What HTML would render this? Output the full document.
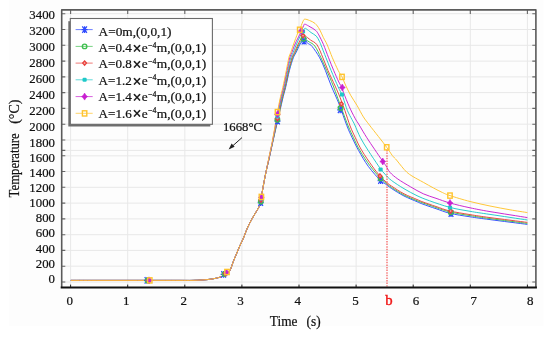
<!DOCTYPE html>
<html><head><meta charset="utf-8"><title>Temperature vs Time</title>
<style>
html,body{margin:0;padding:0;background:#fff;}
body{width:550px;height:337px;overflow:hidden;position:relative;font-family:"Liberation Serif","Noto Serif CJK SC",serif;}
svg{position:absolute;left:0;top:0;display:block}
text{font-family:"Liberation Serif","Noto Serif CJK SC",serif;fill:#111;stroke:#111;stroke-width:0.22}
</style></head><body>
<svg width="550" height="337" viewBox="0 0 550 337">
<rect width="550" height="337" fill="#ffffff"/><rect x="9" y="0" width="534.5" height="326" fill="#fdfdfd"/>
<path d="M70.6 9.9V287.6M127.7 9.9V287.6M184.8 9.9V287.6M241.9 9.9V287.6M299.0 9.9V287.6M356.1 9.9V287.6M413.2 9.9V287.6M470.3 9.9V287.6M527.4 9.9V287.6M61.7 282.0H535.9M61.7 266.2H535.9M61.7 250.4H535.9M61.7 234.7H535.9M61.7 218.9H535.9M61.7 203.1H535.9M61.7 187.3H535.9M61.7 171.5H535.9M61.7 155.8H535.9M61.7 140.0H535.9M61.7 124.2H535.9M61.7 108.4H535.9M61.7 92.6H535.9M61.7 76.9H535.9M61.7 61.1H535.9M61.7 45.3H535.9M61.7 29.5H535.9M61.7 13.7H535.9M61.7 150.4H535.9" stroke="#e8e8e8" stroke-width="1" fill="none"/>
<path d="M70.8 280.4C75.7 280.4 90.1 280.4 100.0 280.4C109.9 280.4 120.0 280.4 130.0 280.4C140.0 280.4 151.7 280.4 160.0 280.4C168.3 280.4 174.7 280.4 180.0 280.4C185.3 280.4 188.3 280.5 192.0 280.4C195.7 280.3 198.7 280.2 202.0 280.0C205.3 279.8 209.0 279.5 212.0 279.0C215.0 278.5 217.8 277.9 220.0 277.2C222.2 276.5 223.7 275.6 225.0 274.8C226.3 274.0 227.1 273.5 228.0 272.6C228.9 271.7 229.6 271.4 230.5 269.4C231.4 267.4 232.6 263.2 233.7 260.5C234.8 257.8 235.8 255.5 236.9 252.9C238.0 250.3 239.0 247.6 240.1 245.2C241.2 242.8 242.2 241.0 243.4 238.2C244.6 235.4 245.9 231.4 247.3 228.2C248.7 225.0 250.3 222.0 251.8 219.2C253.3 216.4 255.1 213.7 256.3 211.6C257.5 209.5 258.5 208.1 259.2 206.6C259.9 205.1 260.2 204.4 260.6 202.4C261.0 200.4 261.2 198.2 261.8 194.5C262.4 190.8 263.5 184.9 264.3 180.5C265.1 176.1 266.2 170.9 266.9 167.8C267.6 164.7 267.4 166.5 268.4 162.0C269.4 157.5 271.5 147.8 273.0 141.0C274.5 134.2 276.0 127.8 277.6 121.0C279.2 114.2 281.1 105.6 282.4 100.0C283.7 94.4 284.4 92.4 285.6 87.5C286.8 82.6 288.1 75.5 289.4 70.5C290.7 65.5 292.2 60.8 293.3 57.8C294.4 54.8 294.9 54.8 296.0 52.7C297.1 50.6 298.6 46.8 299.6 45.0C300.6 43.2 301.2 42.5 302.0 41.8C302.8 41.1 303.0 40.3 304.1 40.6C305.2 40.9 307.2 42.8 308.6 43.8C310.0 44.8 310.4 44.2 312.2 46.5C314.0 48.8 317.5 53.8 319.7 57.8C321.9 61.8 323.5 65.8 325.4 70.5C327.3 75.2 329.0 80.4 331.3 86.0C333.6 91.6 336.5 97.5 339.1 104.1C341.7 110.7 344.6 119.9 346.8 125.5C349.0 131.1 350.2 133.6 352.2 137.8C354.2 142.0 355.9 145.7 358.6 150.5C361.3 155.3 364.7 161.5 368.4 166.5C372.1 171.5 377.8 177.8 380.6 180.6C383.4 183.4 383.2 182.3 385.0 183.6C386.8 184.9 388.2 186.3 391.4 188.4C394.6 190.5 399.7 193.8 404.0 196.0C408.3 198.2 413.8 200.3 417.0 201.7C420.2 203.1 419.8 203.0 423.0 204.2C426.2 205.4 431.5 207.2 436.0 208.7C440.5 210.2 444.3 212.0 450.0 213.3C455.7 214.7 463.3 215.8 470.0 216.8C476.7 217.9 480.4 218.3 490.0 219.6C499.6 220.9 521.2 223.6 527.4 224.4" fill="none" stroke="#2f4bff" stroke-width="0.95" stroke-linejoin="round"/>
<path d="M70.8 280.4C75.7 280.4 90.1 280.4 100.0 280.4C109.9 280.4 120.0 280.4 130.0 280.4C140.0 280.4 151.7 280.4 160.0 280.4C168.3 280.4 174.7 280.4 180.0 280.4C185.3 280.4 188.3 280.5 192.0 280.4C195.7 280.3 198.7 280.2 202.0 280.0C205.3 279.8 209.0 279.5 212.0 279.0C215.0 278.5 217.8 277.9 220.0 277.2C222.2 276.5 223.7 275.6 225.0 274.8C226.3 274.0 227.1 273.5 228.0 272.6C228.9 271.7 229.6 271.4 230.5 269.4C231.4 267.4 232.6 263.2 233.7 260.5C234.8 257.8 235.8 255.5 236.9 252.9C238.0 250.3 239.0 247.6 240.1 245.2C241.2 242.8 242.2 241.0 243.4 238.2C244.6 235.4 245.9 231.4 247.3 228.2C248.7 225.0 250.3 222.0 251.8 219.2C253.3 216.4 255.1 213.7 256.3 211.6C257.5 209.5 258.5 208.1 259.2 206.6C259.9 205.1 260.2 204.4 260.6 202.4C261.0 200.4 261.2 198.2 261.8 194.5C262.4 190.8 263.5 184.9 264.3 180.5C265.1 176.1 266.2 170.9 266.9 167.8C267.6 164.7 267.3 166.5 268.3 162.0C269.3 157.5 271.4 147.8 272.9 141.0C274.4 134.2 275.8 127.8 277.3 121.0C278.9 114.2 280.7 105.6 282.0 100.0C283.3 94.4 284.0 92.4 285.2 87.5C286.3 82.6 287.7 75.5 288.9 70.5C290.2 65.5 291.6 60.8 292.6 57.8C293.7 54.8 294.2 54.8 295.2 52.7C296.2 50.6 297.6 47.0 298.7 45.0C299.7 43.0 300.7 41.5 301.5 40.5C302.3 39.5 302.2 38.5 303.5 38.7C304.8 38.9 307.3 40.7 309.2 41.9C311.1 43.1 312.8 43.4 314.8 46.0C316.8 48.6 319.0 53.7 321.0 57.8C323.0 61.9 324.6 65.8 326.7 70.5C328.8 75.2 330.7 79.3 333.3 86.0C335.9 92.7 339.8 103.8 342.3 110.5C344.8 117.2 346.3 121.5 348.2 126.0C350.1 130.6 351.6 133.7 353.5 137.8C355.4 141.9 357.1 145.8 359.9 150.5C362.6 155.2 366.6 161.2 370.0 165.8C373.4 170.5 378.1 175.7 380.6 178.4C383.1 181.2 383.2 180.8 385.0 182.3C386.8 183.8 388.2 185.2 391.4 187.3C394.6 189.4 399.7 192.8 404.0 195.0C408.3 197.2 412.7 199.0 417.0 200.7C421.3 202.4 424.5 203.5 430.0 205.4C435.5 207.3 443.3 210.3 450.0 212.0C456.7 213.7 463.3 214.5 470.0 215.6C476.7 216.7 480.4 217.3 490.0 218.6C499.6 219.9 521.2 222.6 527.4 223.4" fill="none" stroke="#3fbf4f" stroke-width="0.95" stroke-linejoin="round"/>
<path d="M70.8 280.4C75.7 280.4 90.1 280.4 100.0 280.4C109.9 280.4 120.0 280.4 130.0 280.4C140.0 280.4 151.7 280.4 160.0 280.4C168.3 280.4 174.7 280.4 180.0 280.4C185.3 280.4 188.3 280.5 192.0 280.4C195.7 280.3 198.7 280.2 202.0 280.0C205.3 279.8 209.0 279.5 212.0 279.0C215.0 278.5 217.8 277.9 220.0 277.2C222.2 276.5 223.7 275.6 225.0 274.8C226.3 274.0 227.1 273.5 228.0 272.6C228.9 271.7 229.6 271.4 230.5 269.4C231.4 267.4 232.6 263.2 233.7 260.5C234.8 257.8 235.8 255.5 236.9 252.9C238.0 250.3 239.0 247.6 240.1 245.2C241.2 242.8 242.2 241.0 243.4 238.2C244.6 235.4 245.9 231.4 247.3 228.2C248.7 225.0 250.3 222.0 251.8 219.2C253.3 216.4 255.1 213.7 256.3 211.6C257.5 209.5 258.5 208.1 259.2 206.6C259.9 205.1 260.2 204.4 260.6 202.4C261.0 200.4 261.2 198.2 261.8 194.5C262.4 190.8 263.5 184.9 264.3 180.5C265.1 176.1 266.2 170.9 266.9 167.8C267.6 164.7 267.3 166.5 268.3 162.0C269.3 157.5 271.4 147.8 272.8 141.0C274.3 134.2 275.6 127.8 277.1 121.0C278.6 114.2 280.3 105.6 281.6 100.0C282.9 94.4 283.6 92.4 284.8 87.5C285.9 82.6 287.3 75.5 288.5 70.5C289.7 65.5 291.0 60.8 291.9 57.8C292.9 54.8 293.4 54.8 294.4 52.7C295.4 50.6 296.7 47.1 297.7 45.0C298.7 42.9 299.4 41.6 300.3 40.0C301.2 38.4 302.0 36.1 302.9 35.5C303.8 34.9 304.1 35.4 305.4 36.1C306.7 36.9 308.6 38.5 310.5 40.0C312.4 41.5 314.9 41.8 317.0 44.8C319.1 47.8 321.1 53.5 322.9 57.8C324.7 62.1 326.0 65.8 328.0 70.5C330.0 75.2 333.1 81.5 335.1 86.0C337.1 90.5 338.6 93.7 340.2 97.8C341.8 101.9 343.2 105.8 344.9 110.5C346.5 115.2 348.4 121.5 350.1 126.0C351.9 130.6 353.4 133.7 355.4 137.8C357.3 141.9 359.0 145.8 361.8 150.5C364.6 155.2 369.0 161.6 372.0 165.8C375.0 170.1 377.8 173.5 380.0 176.0C382.2 178.5 383.1 179.3 385.0 181.0C386.9 182.7 388.2 183.9 391.4 186.0C394.6 188.1 399.7 191.6 404.0 193.8C408.3 196.1 413.8 198.1 417.0 199.5C420.2 200.9 419.8 200.8 423.0 202.0C426.2 203.2 431.5 205.0 436.0 206.5C440.5 208.0 444.3 209.7 450.0 211.0C455.7 212.3 463.3 213.5 470.0 214.6C476.7 215.7 480.4 216.3 490.0 217.6C499.6 218.9 521.2 221.6 527.4 222.4" fill="none" stroke="#e8413c" stroke-width="0.95" stroke-linejoin="round"/>
<path d="M70.8 280.4C75.7 280.4 90.1 280.4 100.0 280.4C109.9 280.4 120.0 280.4 130.0 280.4C140.0 280.4 151.7 280.4 160.0 280.4C168.3 280.4 174.7 280.4 180.0 280.4C185.3 280.4 188.3 280.5 192.0 280.4C195.7 280.3 198.7 280.2 202.0 280.0C205.3 279.8 209.0 279.5 212.0 279.0C215.0 278.5 217.8 277.9 220.0 277.2C222.2 276.5 223.7 275.6 225.0 274.8C226.3 274.0 227.1 273.5 228.0 272.6C228.9 271.7 229.6 271.4 230.5 269.4C231.4 267.4 232.6 263.2 233.7 260.5C234.8 257.8 235.8 255.5 236.9 252.9C238.0 250.3 239.0 247.6 240.1 245.2C241.2 242.8 242.2 241.0 243.4 238.2C244.6 235.4 245.9 231.4 247.3 228.2C248.7 225.0 250.3 222.0 251.8 219.2C253.3 216.4 255.1 213.7 256.3 211.6C257.5 209.5 258.5 208.1 259.2 206.6C259.9 205.1 260.2 204.4 260.6 202.4C261.0 200.4 261.2 198.2 261.8 194.5C262.4 190.8 263.5 184.9 264.3 180.5C265.1 176.1 266.3 170.9 266.9 167.8C267.5 164.7 267.2 166.5 268.2 162.0C269.1 157.5 271.3 147.8 272.7 141.0C274.1 134.2 275.3 127.8 276.7 121.0C278.0 114.2 279.7 105.6 281.0 100.0C282.2 94.4 282.9 92.4 284.1 87.5C285.2 82.6 286.6 75.5 287.7 70.5C288.8 65.5 289.9 60.8 290.8 57.8C291.7 54.8 292.2 54.8 293.1 52.7C294.0 50.6 295.0 47.7 296.1 45.0C297.3 42.3 298.9 38.9 300.0 36.5C301.1 34.1 302.2 31.8 303.0 30.5C303.8 29.2 304.2 28.8 304.8 28.5C305.4 28.2 305.5 28.3 306.5 29.0C307.5 29.7 309.4 31.3 311.0 32.5C312.6 33.7 314.9 34.6 316.3 36.1C317.7 37.6 318.6 39.8 319.4 41.3C320.2 42.8 319.9 42.2 321.0 45.0C322.1 47.8 324.3 53.5 326.0 57.8C327.7 62.0 329.1 65.6 331.1 70.5C333.1 75.4 336.4 83.0 338.2 87.0C340.0 91.0 341.2 92.8 342.0 94.6C342.8 96.4 342.3 95.1 343.2 97.8C344.1 100.5 345.9 106.9 347.4 110.5C348.8 114.1 350.7 117.0 351.9 119.4C353.1 121.8 353.4 121.9 354.8 125.0C356.2 128.1 358.3 133.6 360.5 137.8C362.7 142.1 365.2 145.8 368.2 150.5C371.2 155.2 376.3 162.7 378.4 165.8C380.5 168.9 379.5 167.8 380.6 169.2C381.7 170.6 383.2 172.3 385.0 174.2C386.8 176.1 388.2 178.0 391.4 180.4C394.6 182.8 399.7 186.1 404.0 188.7C408.3 191.2 412.7 193.7 417.0 195.7C421.3 197.7 424.1 198.9 429.6 200.8C435.1 202.8 443.3 205.7 450.0 207.4C456.7 209.2 463.3 210.1 470.0 211.3C476.7 212.5 480.4 213.0 490.0 214.4C499.6 215.8 521.2 219.1 527.4 220.0" fill="none" stroke="#1fc9c9" stroke-width="0.95" stroke-linejoin="round"/>
<path d="M70.8 280.4C75.7 280.4 90.1 280.4 100.0 280.4C109.9 280.4 120.0 280.4 130.0 280.4C140.0 280.4 151.7 280.4 160.0 280.4C168.3 280.4 174.7 280.4 180.0 280.4C185.3 280.4 188.3 280.5 192.0 280.4C195.7 280.3 198.7 280.2 202.0 280.0C205.3 279.8 209.0 279.5 212.0 279.0C215.0 278.5 217.8 277.9 220.0 277.2C222.2 276.5 223.7 275.6 225.0 274.8C226.3 274.0 227.1 273.5 228.0 272.6C228.9 271.7 229.6 271.4 230.5 269.4C231.4 267.4 232.6 263.2 233.7 260.5C234.8 257.8 235.8 255.5 236.9 252.9C238.0 250.3 239.0 247.6 240.1 245.2C241.2 242.8 242.2 241.0 243.4 238.2C244.6 235.4 245.9 231.4 247.3 228.2C248.7 225.0 250.3 222.0 251.8 219.2C253.3 216.4 255.1 213.7 256.3 211.6C257.5 209.5 258.5 208.1 259.2 206.6C259.9 205.1 260.2 204.4 260.6 202.4C261.0 200.4 261.2 198.2 261.8 194.5C262.4 190.8 263.5 184.9 264.3 180.5C265.1 176.1 266.3 170.9 266.9 167.8C267.5 164.7 267.1 166.5 268.1 162.0C269.0 157.5 271.2 147.8 272.5 141.0C273.9 134.2 274.9 127.8 276.2 121.0C277.5 114.2 279.1 105.6 280.3 100.0C281.5 94.4 282.3 92.4 283.4 87.5C284.5 82.6 285.9 75.5 286.9 70.5C288.0 65.5 288.9 60.8 289.7 57.8C290.5 54.8 290.9 54.8 291.8 52.7C292.6 50.6 293.5 47.5 294.6 45.0C295.6 42.5 296.8 40.4 298.0 38.0C299.2 35.6 300.6 32.6 301.6 30.4C302.6 28.2 303.5 25.7 304.1 24.7C304.7 23.7 304.4 23.9 305.4 24.3C306.4 24.7 308.3 25.8 310.0 26.8C311.7 27.8 314.1 29.0 315.6 30.4C317.1 31.8 317.5 32.5 318.8 34.9C320.1 37.3 321.9 40.8 323.5 44.6C325.1 48.4 326.9 53.5 328.6 57.8C330.3 62.1 332.0 66.5 333.7 70.5C335.4 74.5 337.4 79.1 338.8 82.0C340.2 84.9 341.2 86.0 342.0 87.8C342.8 89.6 342.4 89.5 343.6 92.7C344.8 95.9 347.4 102.5 349.3 106.7C351.2 111.0 353.4 115.2 355.0 118.2C356.6 121.2 357.2 121.7 359.2 125.0C361.2 128.3 364.3 133.8 366.9 137.8C369.4 141.8 371.9 145.3 374.5 149.2C377.1 153.1 380.9 158.6 382.8 161.4C384.7 164.2 384.8 164.0 386.0 165.8C387.2 167.6 388.0 170.2 390.0 172.4C392.0 174.6 394.4 176.6 397.8 179.0C401.2 181.4 406.2 184.3 410.5 186.8C414.8 189.3 419.1 191.9 423.3 193.8C427.6 195.7 431.6 196.8 436.0 198.3C440.4 199.8 444.3 201.4 450.0 203.0C455.7 204.6 463.3 206.4 470.0 207.8C476.7 209.2 480.4 210.0 490.0 211.6C499.6 213.2 521.2 216.6 527.4 217.6" fill="none" stroke="#c81fd0" stroke-width="0.95" stroke-linejoin="round"/>
<path d="M70.8 280.4C75.7 280.4 90.1 280.4 100.0 280.4C109.9 280.4 120.0 280.4 130.0 280.4C140.0 280.4 151.7 280.4 160.0 280.4C168.3 280.4 174.7 280.4 180.0 280.4C185.3 280.4 188.3 280.5 192.0 280.4C195.7 280.3 198.7 280.2 202.0 280.0C205.3 279.8 209.0 279.5 212.0 279.0C215.0 278.5 217.8 277.9 220.0 277.2C222.2 276.5 223.7 275.6 225.0 274.8C226.3 274.0 227.1 273.5 228.0 272.6C228.9 271.7 229.6 271.4 230.5 269.4C231.4 267.4 232.6 263.2 233.7 260.5C234.8 257.8 235.8 255.5 236.9 252.9C238.0 250.3 239.0 247.6 240.1 245.2C241.2 242.8 242.2 241.0 243.4 238.2C244.6 235.4 245.9 231.4 247.3 228.2C248.7 225.0 250.3 222.0 251.8 219.2C253.3 216.4 255.1 213.7 256.3 211.6C257.5 209.5 258.5 208.1 259.2 206.6C259.9 205.1 260.2 204.4 260.6 202.4C261.0 200.4 261.2 198.2 261.8 194.5C262.4 190.8 263.5 184.9 264.3 180.5C265.1 176.1 266.3 170.9 266.9 167.8C267.5 164.7 267.1 166.5 268.0 162.0C268.9 157.5 271.1 147.8 272.4 141.0C273.7 134.2 274.7 127.8 275.9 121.0C277.1 114.2 278.6 105.6 279.8 100.0C281.0 94.4 281.7 92.4 282.8 87.5C283.9 82.6 285.3 75.5 286.3 70.5C287.3 65.5 288.1 60.8 288.8 57.8C289.5 54.8 289.9 54.8 290.7 52.7C291.4 50.6 292.1 48.3 293.3 45.0C294.5 41.7 296.7 35.5 297.8 33.0C298.9 30.5 298.9 31.7 299.7 29.8C300.5 27.9 302.0 23.3 302.9 21.5C303.8 19.7 303.7 19.4 304.8 19.2C305.9 19.0 307.8 19.8 309.5 20.5C311.2 21.2 313.4 22.0 315.0 23.4C316.6 24.8 318.0 26.8 319.4 29.1C320.8 31.4 322.0 34.8 323.3 37.4C324.6 40.0 325.8 41.6 327.3 45.0C328.8 48.4 330.6 53.5 332.4 57.8C334.2 62.0 336.6 67.3 338.2 70.5C339.8 73.7 340.8 74.5 342.0 76.9C343.2 79.3 344.1 82.0 345.5 85.0C346.9 88.0 348.7 91.8 350.6 95.2C352.5 98.6 354.9 101.8 357.0 105.4C359.1 109.0 361.3 113.6 363.4 116.9C365.5 120.2 366.9 121.7 369.4 125.0C371.9 128.3 375.5 132.8 378.4 136.5C381.3 140.2 384.4 144.1 386.7 147.3C389.0 150.5 390.8 153.5 392.4 155.6C394.0 157.7 395.0 158.2 396.5 160.0C398.0 161.8 399.9 164.4 401.6 166.4C403.3 168.4 404.8 170.4 406.7 172.1C408.6 173.8 410.2 174.9 413.0 176.6C415.8 178.3 419.9 180.4 423.3 182.3C426.7 184.2 430.3 186.3 433.5 188.0C436.7 189.7 439.6 191.2 442.4 192.5C445.1 193.8 445.4 194.1 450.0 195.6C454.6 197.1 463.3 199.8 470.0 201.5C476.7 203.2 483.3 204.6 490.0 206.0C496.7 207.4 503.8 208.7 510.0 209.8C516.2 210.9 524.5 212.1 527.4 212.6" fill="none" stroke="#ffc42e" stroke-width="0.95" stroke-linejoin="round"/>
<path d="M387 150V286.6" stroke="#f24040" stroke-width="1.05" stroke-dasharray="1.5 1.1" fill="none"/>
<path d="M144.0 280.4H150.0M147.0 277.1V283.7M144.7 277.1L149.3 283.7M144.7 283.7L149.3 277.1" stroke="#2f4bff" stroke-width="1.25" fill="none"/>
<path d="M220.6 274.4H226.6M223.6 271.1V277.7M221.3 271.1L225.9 277.7M221.3 277.7L225.9 271.1" stroke="#2f4bff" stroke-width="1.25" fill="none"/>
<path d="M257.7 202.6H263.7M260.7 199.3V205.9M258.4 199.3L263.0 205.9M258.4 205.9L263.0 199.3" stroke="#2f4bff" stroke-width="1.25" fill="none"/>
<path d="M274.5 121.0H280.5M277.5 117.7V124.3M275.2 117.7L279.8 124.3M275.2 124.3L279.8 117.7" stroke="#2f4bff" stroke-width="1.25" fill="none"/>
<path d="M301.1 41.2H307.1M304.1 37.9V44.5M301.8 37.9L306.4 44.5M301.8 44.5L306.4 37.9" stroke="#2f4bff" stroke-width="1.25" fill="none"/>
<path d="M337.2 109.9H343.2M340.2 106.6V113.2M337.9 106.6L342.5 113.2M337.9 113.2L342.5 106.6" stroke="#2f4bff" stroke-width="1.25" fill="none"/>
<path d="M377.6 180.6H383.6M380.6 177.3V183.9M378.3 177.3L382.9 183.9M378.3 183.9L382.9 177.3" stroke="#2f4bff" stroke-width="1.25" fill="none"/>
<path d="M448.0 213.6H454.0M451.0 210.3V216.9M448.7 210.3L453.3 216.9M448.7 216.9L453.3 210.3" stroke="#2f4bff" stroke-width="1.25" fill="none"/>
<circle cx="147.6" cy="280.4" r="2.25" fill="none" stroke="#3fbf4f" stroke-width="1.4"/>
<circle cx="224.5" cy="274.0" r="2.25" fill="none" stroke="#3fbf4f" stroke-width="1.4"/>
<circle cx="260.8" cy="201.5" r="2.25" fill="none" stroke="#3fbf4f" stroke-width="1.4"/>
<circle cx="277.4" cy="119.8" r="2.25" fill="none" stroke="#3fbf4f" stroke-width="1.4"/>
<circle cx="303.5" cy="38.8" r="2.25" fill="none" stroke="#3fbf4f" stroke-width="1.4"/>
<circle cx="340.6" cy="108.0" r="2.25" fill="none" stroke="#3fbf4f" stroke-width="1.4"/>
<circle cx="380.6" cy="178.4" r="2.25" fill="none" stroke="#3fbf4f" stroke-width="1.4"/>
<circle cx="450.8" cy="212.3" r="2.25" fill="none" stroke="#3fbf4f" stroke-width="1.4"/>
<path d="M148.2 278.2L150.1 280.4L148.2 282.6L146.3 280.4Z" fill="#f4a0a0" stroke="#e8413c" stroke-width="1.3" stroke-linejoin="miter"/>
<path d="M225.3 271.4L227.2 273.6L225.3 275.8L223.4 273.6Z" fill="#f4a0a0" stroke="#e8413c" stroke-width="1.3" stroke-linejoin="miter"/>
<path d="M261.0 197.8L262.9 200.0L261.0 202.2L259.1 200.0Z" fill="#f4a0a0" stroke="#e8413c" stroke-width="1.3" stroke-linejoin="miter"/>
<path d="M277.4 116.3L279.3 118.5L277.4 120.7L275.5 118.5Z" fill="#f4a0a0" stroke="#e8413c" stroke-width="1.3" stroke-linejoin="miter"/>
<path d="M303.0 33.4L304.9 35.6L303.0 37.8L301.1 35.6Z" fill="#f4a0a0" stroke="#e8413c" stroke-width="1.3" stroke-linejoin="miter"/>
<path d="M341.4 101.7L343.3 103.9L341.4 106.1L339.5 103.9Z" fill="#f4a0a0" stroke="#e8413c" stroke-width="1.3" stroke-linejoin="miter"/>
<path d="M380.0 173.8L381.9 176.0L380.0 178.2L378.1 176.0Z" fill="#f4a0a0" stroke="#e8413c" stroke-width="1.3" stroke-linejoin="miter"/>
<path d="M450.6 208.8L452.5 211.0L450.6 213.2L448.7 211.0Z" fill="#f4a0a0" stroke="#e8413c" stroke-width="1.3" stroke-linejoin="miter"/>
<rect x="146.7" y="278.4" width="4.2" height="4.0" rx="1.2" fill="#1fc9c9"/>
<rect x="223.9" y="271.2" width="4.2" height="4.0" rx="1.2" fill="#1fc9c9"/>
<rect x="259.1" y="196.7" width="4.2" height="4.0" rx="1.2" fill="#1fc9c9"/>
<rect x="275.3" y="114.5" width="4.2" height="4.0" rx="1.2" fill="#1fc9c9"/>
<rect x="300.9" y="29.5" width="4.2" height="4.0" rx="1.2" fill="#1fc9c9"/>
<rect x="339.9" y="92.6" width="4.2" height="4.0" rx="1.2" fill="#1fc9c9"/>
<rect x="378.5" y="167.4" width="4.2" height="4.0" rx="1.2" fill="#1fc9c9"/>
<rect x="447.9" y="205.6" width="4.2" height="4.0" rx="1.2" fill="#1fc9c9"/>
<path d="M149.3 276.9L150.6 279.1L152.3 280.4L150.6 281.7L149.3 283.9L148.0 281.7L146.3 280.4L148.0 279.1Z" fill="#c81fd0" stroke="#c81fd0" stroke-width="0.6"/>
<path d="M226.5 269.1L227.8 271.3L229.5 272.6L227.8 273.9L226.5 276.1L225.2 273.9L223.5 272.6L225.2 271.3Z" fill="#c81fd0" stroke="#c81fd0" stroke-width="0.6"/>
<path d="M261.3 194.0L262.6 196.2L264.3 197.5L262.6 198.8L261.3 201.0L260.0 198.8L258.3 197.5L260.0 196.2Z" fill="#c81fd0" stroke="#c81fd0" stroke-width="0.6"/>
<path d="M277.4 110.8L278.7 113.0L280.4 114.3L278.7 115.6L277.4 117.8L276.1 115.6L274.4 114.3L276.1 113.0Z" fill="#c81fd0" stroke="#c81fd0" stroke-width="0.6"/>
<path d="M301.3 27.5L302.6 29.7L304.3 31.0L302.6 32.3L301.3 34.5L300.0 32.3L298.3 31.0L300.0 29.7Z" fill="#c81fd0" stroke="#c81fd0" stroke-width="0.6"/>
<path d="M342.3 84.0L343.6 86.2L345.3 87.5L343.6 88.8L342.3 91.0L341.0 88.8L339.3 87.5L341.0 86.2Z" fill="#c81fd0" stroke="#c81fd0" stroke-width="0.6"/>
<path d="M382.8 158.0L384.1 160.2L385.8 161.5L384.1 162.8L382.8 165.0L381.5 162.8L379.8 161.5L381.5 160.2Z" fill="#c81fd0" stroke="#c81fd0" stroke-width="0.6"/>
<path d="M450.0 199.5L451.3 201.7L453.0 203.0L451.3 204.3L450.0 206.5L448.7 204.3L447.0 203.0L448.7 201.7Z" fill="#c81fd0" stroke="#c81fd0" stroke-width="0.6"/>
<rect x="147.6" y="277.8" width="4.4" height="5.2" fill="none" stroke="#ffc42e" stroke-width="1.4"/>
<rect x="224.8" y="269.4" width="4.4" height="5.2" fill="none" stroke="#ffc42e" stroke-width="1.4"/>
<rect x="259.2" y="194.3" width="4.4" height="5.2" fill="none" stroke="#ffc42e" stroke-width="1.4"/>
<rect x="275.3" y="109.5" width="4.4" height="5.2" fill="none" stroke="#ffc42e" stroke-width="1.4"/>
<rect x="297.5" y="27.2" width="4.4" height="5.2" fill="none" stroke="#ffc42e" stroke-width="1.4"/>
<rect x="339.8" y="74.3" width="4.4" height="5.2" fill="none" stroke="#ffc42e" stroke-width="1.4"/>
<rect x="384.5" y="144.7" width="4.4" height="5.2" fill="none" stroke="#ffc42e" stroke-width="1.4"/>
<rect x="447.8" y="193.0" width="4.4" height="5.2" fill="none" stroke="#ffc42e" stroke-width="1.4"/>
<path d="M70.6 9.9v4M127.7 9.9v4M184.8 9.9v4M241.9 9.9v4M299.0 9.9v4M356.1 9.9v4M413.2 9.9v4M470.3 9.9v4M527.4 9.9v4M61.7 282.0h3.6M535.9 282.0h-3.6M61.7 266.2h3.6M535.9 266.2h-3.6M61.7 250.4h3.6M535.9 250.4h-3.6M61.7 234.7h3.6M535.9 234.7h-3.6M61.7 218.9h3.6M535.9 218.9h-3.6M61.7 203.1h3.6M535.9 203.1h-3.6M61.7 187.3h3.6M535.9 187.3h-3.6M61.7 171.5h3.6M535.9 171.5h-3.6M61.7 155.8h3.6M535.9 155.8h-3.6M61.7 140.0h3.6M535.9 140.0h-3.6M61.7 124.2h3.6M535.9 124.2h-3.6M61.7 108.4h3.6M535.9 108.4h-3.6M61.7 92.6h3.6M535.9 92.6h-3.6M61.7 76.9h3.6M535.9 76.9h-3.6M61.7 61.1h3.6M535.9 61.1h-3.6M61.7 45.3h3.6M535.9 45.3h-3.6M61.7 29.5h3.6M535.9 29.5h-3.6M61.7 13.7h3.6M535.9 13.7h-3.6M61.7 150.4h3.6M535.9 150.4h-3.6" stroke="#666" stroke-width="1.1" fill="none"/>
<path d="M61.7 287.6V9.9H535.9V287.6" stroke="#5a5a5a" stroke-width="1.6" fill="none" stroke-linejoin="round"/>
<path d="M70.6 287.6v-3M127.7 287.6v-3M184.8 287.6v-3M241.9 287.6v-3M299.0 287.6v-3M356.1 287.6v-3M413.2 287.6v-3M470.3 287.6v-3M527.4 287.6v-3" stroke="#222" stroke-width="1" fill="none"/>
<path d="M60.7 287.6H536.9" stroke="#111" stroke-width="2" fill="none"/>
<text transform="translate(55.0,282.9) scale(0.95,1)" font-size="13.5" text-anchor="end">0</text>
<text transform="translate(55.0,267.8) scale(0.95,1)" font-size="13.5" text-anchor="end">200</text>
<text transform="translate(55.0,252.6) scale(0.95,1)" font-size="13.5" text-anchor="end">400</text>
<text transform="translate(55.0,237.4) scale(0.95,1)" font-size="13.5" text-anchor="end">600</text>
<text transform="translate(55.0,222.3) scale(0.95,1)" font-size="13.5" text-anchor="end">800</text>
<text transform="translate(55.0,207.2) scale(0.95,1)" font-size="13.5" text-anchor="end">1000</text>
<text transform="translate(55.0,192.0) scale(0.95,1)" font-size="13.5" text-anchor="end">1200</text>
<text transform="translate(55.0,176.9) scale(0.95,1)" font-size="13.5" text-anchor="end">1400</text>
<text transform="translate(55.0,161.7) scale(0.95,1)" font-size="13.5" text-anchor="end">1600</text>
<text transform="translate(55.0,146.6) scale(0.95,1)" font-size="13.5" text-anchor="end">1800</text>
<text transform="translate(55.0,131.4) scale(0.95,1)" font-size="13.5" text-anchor="end">2000</text>
<text transform="translate(55.0,115.3) scale(0.95,1)" font-size="13.5" text-anchor="end">2200</text>
<text transform="translate(55.0,99.3) scale(0.95,1)" font-size="13.5" text-anchor="end">2400</text>
<text transform="translate(55.0,83.3) scale(0.95,1)" font-size="13.5" text-anchor="end">2600</text>
<text transform="translate(55.0,67.2) scale(0.95,1)" font-size="13.5" text-anchor="end">2800</text>
<text transform="translate(55.0,51.2) scale(0.95,1)" font-size="13.5" text-anchor="end">3000</text>
<text transform="translate(55.0,35.1) scale(0.95,1)" font-size="13.5" text-anchor="end">3200</text>
<text transform="translate(55.0,19.1) scale(0.95,1)" font-size="13.5" text-anchor="end">3400</text>
<text transform="translate(69.8,304.7) scale(0.97,1)" font-size="13.4" text-anchor="middle">0</text>
<text transform="translate(126.2,304.7) scale(0.97,1)" font-size="13.4" text-anchor="middle">1</text>
<text transform="translate(183.8,304.7) scale(0.97,1)" font-size="13.4" text-anchor="middle">2</text>
<text transform="translate(240.5,304.7) scale(0.97,1)" font-size="13.4" text-anchor="middle">3</text>
<text transform="translate(297.7,304.7) scale(0.97,1)" font-size="13.4" text-anchor="middle">4</text>
<text transform="translate(355.4,304.7) scale(0.97,1)" font-size="13.4" text-anchor="middle">5</text>
<text transform="translate(416.0,304.7) scale(0.97,1)" font-size="13.4" text-anchor="middle">6</text>
<text transform="translate(473.7,304.7) scale(0.97,1)" font-size="13.4" text-anchor="middle">7</text>
<text transform="translate(530.2,304.7) scale(0.97,1)" font-size="13.4" text-anchor="middle">8</text>
<text transform="translate(389.0,305.2) scale(0.95,1)" font-size="15.5" text-anchor="middle" style="fill:#f01818;stroke:#f01818;stroke-width:0.45">b</text>
<text transform="translate(269.8,325.7) scale(0.93,1)" font-size="14.3" text-anchor="start">Time</text>
<text transform="translate(306.6,325.7) scale(0.93,1)" font-size="14.3" text-anchor="start">(s)</text>
<text transform="translate(19.3,197.4) rotate(-90) scale(0.85,1)" font-size="15">Temperature</text><text transform="translate(19.3,123.8) rotate(-90) scale(0.93,1)" font-size="15">(°C)</text>
<text transform="translate(223.0,131.0) scale(0.95,1)" font-size="13.4" text-anchor="start">1668°C</text>
<path d="M242 137.6L230.5 147.8" stroke="#222" stroke-width="1" fill="none"/><path d="M228.6 149.4L234.6 146.8L231.6 143.6Z" fill="#222"/>
<rect x="68.3" y="21.2" width="142" height="105.3" fill="#6e6e6e"/>
<rect x="70.3" y="18.5" width="142.1" height="105.8" fill="#fff" stroke="#6a6a6a" stroke-width="1.1"/>
<path d="M75.6 29.6H92.7" stroke="#2f4bff" stroke-width="1" opacity="0.7"/><path d="M81.6 29.6H87.6M84.6 26.3V32.9M82.3 26.3L86.9 32.9M82.3 32.9L86.9 26.3" stroke="#2f4bff" stroke-width="1.25" fill="none"/>
<text x="98.6" y="35.7" font-size="13.4" textLength="72.9" lengthAdjust="spacingAndGlyphs">A=0m,(0,0,1)</text>
<path d="M75.6 46.4H92.7" stroke="#3fbf4f" stroke-width="1" opacity="0.7"/><circle cx="84.6" cy="46.4" r="2.25" fill="none" stroke="#3fbf4f" stroke-width="1.4"/>
<text y="52.1" font-size="13.4"><tspan x="98.6" textLength="33.2" lengthAdjust="spacingAndGlyphs">A=0.4</tspan><tspan x="132.6" font-size="16" font-weight="bold" dy="1.7">×</tspan><tspan x="141.8" dy="-1.7">e</tspan><tspan x="148.1" font-size="7.8" dy="-4.4">−4</tspan><tspan x="156.8" dy="4.4">m,(0,0,1)</tspan></text>
<path d="M75.6 63.1H92.7" stroke="#e8413c" stroke-width="1" opacity="0.7"/><path d="M84.6 60.9L86.5 63.1L84.6 65.3L82.7 63.1Z" fill="#f4a0a0" stroke="#e8413c" stroke-width="1.3" stroke-linejoin="miter"/>
<text y="68.4" font-size="13.4"><tspan x="98.6" textLength="33.2" lengthAdjust="spacingAndGlyphs">A=0.8</tspan><tspan x="132.6" font-size="16" font-weight="bold" dy="1.7">×</tspan><tspan x="141.8" dy="-1.7">e</tspan><tspan x="148.1" font-size="7.8" dy="-4.4">−4</tspan><tspan x="156.8" dy="4.4">m,(0,0,1)</tspan></text>
<path d="M75.6 79.8H92.7" stroke="#1fc9c9" stroke-width="1" opacity="0.7"/><rect x="82.5" y="77.8" width="4.2" height="4.0" rx="1.2" fill="#1fc9c9"/>
<text y="84.8" font-size="13.4"><tspan x="98.6" textLength="33.2" lengthAdjust="spacingAndGlyphs">A=1.2</tspan><tspan x="132.6" font-size="16" font-weight="bold" dy="1.7">×</tspan><tspan x="141.8" dy="-1.7">e</tspan><tspan x="148.1" font-size="7.8" dy="-4.4">−4</tspan><tspan x="156.8" dy="4.4">m,(0,0,1)</tspan></text>
<path d="M75.6 96.6H92.7" stroke="#c81fd0" stroke-width="1" opacity="0.7"/><path d="M84.6 93.1L85.9 95.3L87.6 96.6L85.9 97.9L84.6 100.1L83.3 97.9L81.6 96.6L83.3 95.3Z" fill="#c81fd0" stroke="#c81fd0" stroke-width="0.6"/>
<text y="101.1" font-size="13.4"><tspan x="98.6" textLength="33.2" lengthAdjust="spacingAndGlyphs">A=1.4</tspan><tspan x="132.6" font-size="16" font-weight="bold" dy="1.7">×</tspan><tspan x="141.8" dy="-1.7">e</tspan><tspan x="148.1" font-size="7.8" dy="-4.4">−4</tspan><tspan x="156.8" dy="4.4">m,(0,0,1)</tspan></text>
<path d="M75.6 113.3H92.7" stroke="#ffc42e" stroke-width="1" opacity="0.7"/><rect x="82.4" y="110.8" width="4.4" height="5.2" fill="none" stroke="#ffc42e" stroke-width="1.4"/>
<text y="117.5" font-size="13.4"><tspan x="98.6" textLength="33.2" lengthAdjust="spacingAndGlyphs">A=1.6</tspan><tspan x="132.6" font-size="16" font-weight="bold" dy="1.7">×</tspan><tspan x="141.8" dy="-1.7">e</tspan><tspan x="148.1" font-size="7.8" dy="-4.4">−4</tspan><tspan x="156.8" dy="4.4">m,(0,0,1)</tspan></text>
</svg></body></html>
